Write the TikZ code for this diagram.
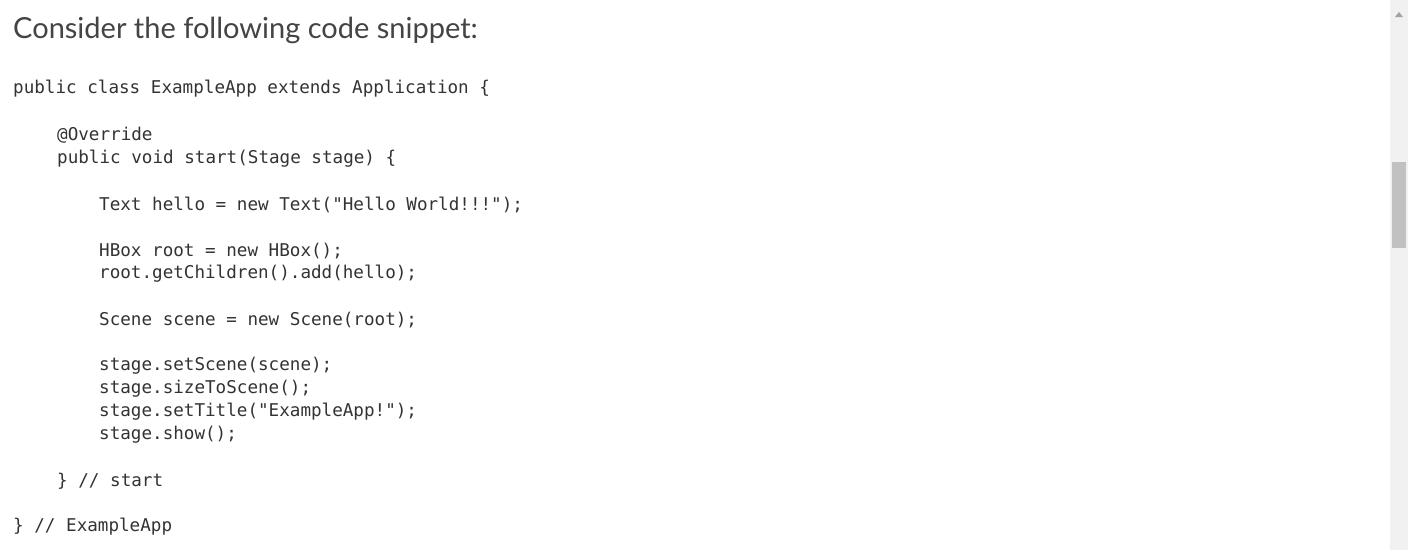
\documentclass[tikz,border=0pt]{standalone}
\usepackage{fontspec}
\setmainfont{Lato}
\newfontfamily\codefont{DejaVu Sans Mono}[Scale=1]
\definecolor{codecol}{HTML}{333333}
\definecolor{titlecol}{HTML}{444444}
\definecolor{sbbg}{HTML}{F1F1F1}
\definecolor{sbthumb}{HTML}{C1C1C1}
\definecolor{sbarrow}{HTML}{A3A3A3}
\begin{document}
\begin{tikzpicture}[x=1pt,y=-1pt,
  code/.style={anchor=west,inner sep=0pt,text=codecol,font=\codefont\fontsize{17.6}{20}\selectfont},
  title/.style={anchor=west,inner sep=0pt,text=titlecol,font=\fontsize{29}{34}\selectfont}]
\useasboundingbox (0,0) rectangle (1408,550);
\fill[white] (0,0) rectangle (1408,550);
\fill[sbbg] (1390,0) rectangle (1408,550);
\fill[sbthumb] (1392,162) rectangle (1406,248);
\fill[sbarrow] (1395,17) -- (1403,17) -- (1399,12) -- cycle;
\node[title] (t) at (13,30) {Consider the following code snippet:};
\node[code] (l1) at (13,89) {public class ExampleApp extends Application \{};
\node[code] (l2) at (57,135) {@Override};
\node[code] (l3) at (57,159) {public void start(Stage stage) \{};
\node[code] (l4) at (99,205) {Text hello = new Text("Hello World!!!");};
\node[code] (l5) at (99,251) {HBox root = new HBox();};
\node[code] (l6) at (99,274) {root.getChildren().add(hello);};
\node[code] (l7) at (99,320) {Scene scene = new Scene(root);};
\node[code] (l8) at (99,366) {stage.setScene(scene);};
\node[code] (l9) at (99,389) {stage.sizeToScene();};
\node[code] (l10) at (99,412) {stage.setTitle("ExampleApp!");};
\node[code] (l11) at (99,435) {stage.show();};
\node[code] (l12) at (57,481) {\} // start};
\node[code] (l13) at (13,527) {\} // ExampleApp};
\end{tikzpicture}
\end{document}
